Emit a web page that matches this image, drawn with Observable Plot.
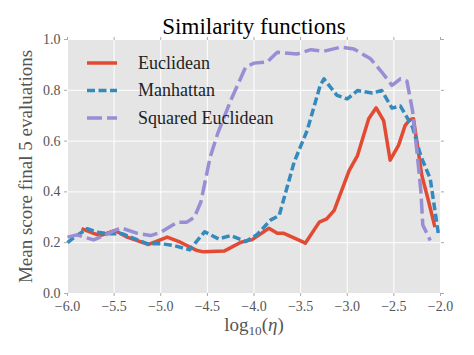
<!DOCTYPE html>
<html>
<head>
<meta charset="utf-8">
<script src="https://cdn.jsdelivr.net/npm/d3@7"></script>
<script src="https://cdn.jsdelivr.net/npm/@observablehq/plot@0.6"></script>
<style>
  html, body { margin: 0; padding: 0; background: #fff; }
  #chart { width: 474px; height: 355px; }
  #chart svg, #chart svg text { font-family: "Liberation Serif", "DejaVu Serif", serif !important; }
</style>
</head>
<body>
<div id="chart"></div>
<script>
// ---- data ----
const titleText = "Similarity functions";
const xLabel = "log₁₀(η)";
const yLabel = "Mean score final 5 evaluations";
const seriesNames = ["Euclidean", "Manhattan", "Squared Euclidean"];
const xTicks = [-6.0, -5.5, -5.0, -4.5, -4.0, -3.5, -3.0, -2.5, -2.0];
const yTicks = [0.0, 0.2, 0.4, 0.6, 0.8, 1.0];

const euclideanX = [-5.85,-5.72,-5.65,-5.49,-5.36,-5.13,-4.93,-4.79,-4.61,-4.54,-4.32,-4.14,-4.02,-3.84,-3.75,-3.68,-3.47,-3.45,-3.30,-3.22,-3.14,-2.98,-2.89,-2.77,-2.69,-2.61,-2.54,-2.45,-2.38,-2.33,-2.29,-2.20,-2.13,-2.06];
const euclideanY = [0.255,0.237,0.228,0.248,0.222,0.193,0.222,0.202,0.169,0.164,0.167,0.202,0.212,0.257,0.237,0.237,0.202,0.198,0.281,0.294,0.327,0.484,0.543,0.688,0.731,0.681,0.525,0.583,0.661,0.684,0.688,0.465,0.366,0.261];

const manhattanX = [-6.00,-5.95,-5.79,-5.68,-5.54,-5.41,-5.15,-5.00,-4.86,-4.69,-4.53,-4.38,-4.25,-4.09,-3.97,-3.82,-3.73,-3.57,-3.43,-3.29,-3.25,-3.11,-3.00,-2.89,-2.73,-2.63,-2.52,-2.43,-2.30,-2.21,-2.11,-2.02];
const manhattanY = [0.200,0.215,0.255,0.241,0.235,0.235,0.196,0.196,0.189,0.172,0.243,0.215,0.228,0.205,0.231,0.290,0.307,0.517,0.642,0.819,0.845,0.780,0.766,0.799,0.789,0.799,0.730,0.738,0.655,0.540,0.452,0.228];

const squaredX = [-6.00,-5.90,-5.72,-5.61,-5.43,-5.25,-5.11,-5.00,-4.82,-4.72,-4.64,-4.57,-4.47,-4.39,-4.25,-4.09,-4.00,-3.86,-3.75,-3.54,-3.39,-3.25,-3.07,-2.93,-2.75,-2.63,-2.52,-2.43,-2.36,-2.30,-2.25,-2.21,-2.19,-2.11];
const squaredY = [0.222,0.231,0.211,0.228,0.259,0.237,0.228,0.241,0.281,0.281,0.300,0.360,0.537,0.629,0.760,0.891,0.907,0.911,0.950,0.943,0.960,0.954,0.970,0.963,0.924,0.872,0.819,0.845,0.836,0.720,0.550,0.400,0.270,0.209];

// ---- styles ----
const colors = ["#E24A33", "#348ABD", "#988ED5"];
const dashes = [null, "8,3.5", "15,5"];
const font = "Liberation Serif, DejaVu Serif, serif";
const gray = "#555555";

const toRows = (xs, ys, name) => xs.map((x, i) => ({x, y: ys[i], name}));
const seriesData = [
  toRows(euclideanX, euclideanY, seriesNames[0]),
  toRows(manhattanX, manhattanY, seriesNames[1]),
  toRows(squaredX, squaredY, seriesNames[2])
];

const fmt = d3.format(".1f");

const chart = Plot.plot({
  width: 474,
  height: 355,
  marginLeft: 67,
  marginRight: 34,
  marginTop: 39,
  marginBottom: 62,
  style: {fontFamily: font, background: "#fff"},
  x: {domain: [-6, -2]},
  y: {domain: [0, 1]},
  marks: [
    Plot.frame({fill: "#E5E5E5", stroke: null}),
    Plot.gridX(xTicks, {stroke: "#fff", strokeOpacity: 1, strokeWidth: 1}),
    Plot.gridY(yTicks, {stroke: "#fff", strokeOpacity: 1, strokeWidth: 1}),
    Plot.axisX(xTicks, {anchor: "bottom", tickSize: 3, tickPadding: 5, tickFormat: fmt, label: null, fontSize: 14, fontFamily: font, color: gray, stroke: "#aaa"}),
    Plot.axisX(xTicks, {anchor: "top", tickSize: 3, tickFormat: () => "", label: null, stroke: "#aaa"}),
    Plot.axisY(yTicks, {anchor: "left", tickSize: 3, tickPadding: 4, tickFormat: fmt, label: null, fontSize: 14, fontFamily: font, color: gray, stroke: "#aaa"}),
    Plot.axisY(yTicks, {anchor: "right", tickSize: 3, tickFormat: () => "", label: null, stroke: "#aaa"}),
    ...seriesData.map((d, i) => Plot.line(d, {
      x: "x", y: "y",
      stroke: colors[i], strokeWidth: 3.5,
      strokeDasharray: dashes[i],
      strokeLinejoin: "round", strokeLinecap: "butt"
    })),
    Plot.text([titleText], {frameAnchor: "top", lineAnchor: "bottom", dy: -6, fontSize: 23, fontFamily: font, fill: "#000"}),
    Plot.text([xLabel], {frameAnchor: "bottom", lineAnchor: "bottom", dy: 37, fontSize: 19, fontFamily: font, fill: gray}),
    Plot.text([yLabel], {frameAnchor: "left", textAnchor: "middle", lineAnchor: "middle", rotate: -90, dx: -42, fontSize: 19, fontFamily: font, fill: gray})
  ]
});

document.getElementById("chart").appendChild(chart);

const svg = d3.select(chart);

// typeset the x label: log, subscript 10, italic eta
svg.selectAll("text").filter(function () { return this.textContent === xLabel; })
  .each(function () {
    const t = d3.select(this);
    t.text(null);
    t.append("tspan").text("log");
    t.append("tspan").attr("font-size", "0.7em").attr("dy", "0.3em").text("10");
    t.append("tspan").attr("dy", "-0.21em").text("(");
    t.append("tspan").attr("font-style", "italic").text("η");
    t.append("tspan").text(")");
  });

// ---- legend (inside plot area, upper left) ----
const legend = svg.append("g")
  .attr("font-family", font).attr("font-size", 18)
  .attr("text-anchor", "start");
seriesNames.forEach((name, i) => {
  const cy = 39 + 24 + i * 27.5;
  legend.append("line")
    .attr("x1", 87).attr("x2", 117).attr("y1", cy).attr("y2", cy)
    .attr("stroke", colors[i]).attr("stroke-width", 3.5)
    .attr("stroke-dasharray", dashes[i]);
  legend.append("text")
    .attr("x", 138).attr("y", cy).attr("dy", "0.32em")
    .attr("text-anchor", "start")
    .attr("fill", "#222")
    .text(name);
});
</script>
</body>
</html>
